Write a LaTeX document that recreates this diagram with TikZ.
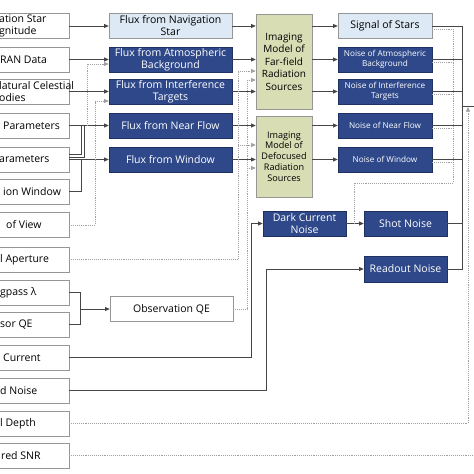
\documentclass[tikz,border=0pt]{standalone}
\usepackage{fontspec}
\setmainfont{Open Sans}
\usetikzlibrary{arrows.meta}
\definecolor{dblue}{RGB}{46,72,138}
\definecolor{lblue}{RGB}{221,234,245}
\definecolor{olivebg}{RGB}{216,221,180}
\definecolor{lnc}{RGB}{70,70,70}
\definecolor{dotc}{RGB}{160,160,160}
\definecolor{bordc}{RGB}{150,150,150}
\tikzset{
 base/.style={inner sep=1pt, align=center, font=\fontsize{10.5}{12}\selectfont, line width=0.7pt},
 wbox/.style={base, draw=bordc, fill=white, minimum height=25pt},
 lbox/.style={wbox, minimum width=129pt},
 dbox/.style={base, draw=dblue!70!black, fill=dblue, text=white, minimum height=25pt},
 flux/.style={dbox, minimum width=123pt},
 nbox/.style={dbox, minimum width=94pt, font=\fontsize{8.2}{9.5}\selectfont},
 lbbox/.style={base, draw=bordc, fill=lblue, minimum height=25pt},
 imgbox/.style={base, draw=bordc, fill=olivebg, minimum width=56pt},
 lbl/.style={anchor=west, inner sep=0pt, align=left, font=\fontsize{10.5}{12}\selectfont},
 ln/.style={draw=lnc, line width=0.9pt},
 dl/.style={draw=dotc, line width=0.9pt, densely dotted},
 arr/.style={-{Triangle[length=4.5pt,width=4pt]}},
}
\begin{document}
\begin{tikzpicture}[x=1pt,y=-1pt]
\useasboundingbox (0,0) rectangle (474,474);
\clip (0,0) rectangle (474,474);
\fill[white] (0,0) rectangle (474,474);
% left boxes
\node[lbox] (b1) at (4.5,26) {};
\node[lbox] (b2) at (4.5,59.5) {};
\node[lbox] (b3) at (4.5,91.5) {};
\node[lbox] (b4) at (4.5,125.5) {};
\node[lbox] (b5) at (4.5,159.5) {};
\node[lbox] (b6) at (4.5,191.5) {};
\node[lbox] (b7) at (4.5,225) {};
\node[lbox] (b8) at (4.5,259.5) {};
\node[lbox] (b9) at (4.5,292.5) {};
\node[lbox] (b10) at (4.5,324.5) {};
\node[lbox] (b11) at (4.5,357.5) {};
\node[lbox] (b12) at (4.5,390.5) {};
\node[lbox] (b13) at (4.5,423.5) {};
\node[lbox] (b14) at (4.5,455.5) {};
\node[lbl] (t1) at (-1,26) {ation Star\\gnitude};
\node[lbl] (t2) at (0,59.5) {RAN Data};
\node[lbl] (t3) at (-1,91.5) {latural Celestial\\odies};
\node[lbl] (t4) at (3,125.5) {Parameters};
\node[lbl] (t5) at (-1,159.5) {arameters};
\node[lbl] (t6) at (3,191.5) {ion Window};
\node[lbl] (t7) at (6,225) {of View};
\node[lbl] (t8) at (0,259.5) {l Aperture};
\node[lbl] (t9) at (0,292.5) {gpass λ};
\node[lbl] (t10) at (0,324.5) {sor QE};
\node[lbl] (t11) at (3,357.5) {Current};
\node[lbl] (t12) at (0,390.5) {d Noise};
\node[lbl] (t13) at (0,423.5) {l Depth};
\node[lbl] (t14) at (1,455.5) {red SNR};
% flux boxes
\node[lbbox, minimum width=123pt] (f1) at (170.5,26) {Flux from Navigation\\Star};
\node[flux] (f2) at (170.5,59.5) {Flux from Atmospheric\\Background};
\node[flux] (f3) at (170.5,91.5) {Flux from Interference\\Targets};
\node[flux] (f4) at (170.5,125.5) {Flux from Near Flow};
\node[flux] (f5) at (170.5,159.5) {Flux from Window};
% imaging models
\node[imgbox, minimum height=95pt, font=\fontsize{10}{12.5}\selectfont] (ff) at (284,61.5) {Imaging\\Model of\\Far-field\\Radiation\\Sources};
\node[imgbox, minimum height=81pt, font=\fontsize{9.1}{10.8}\selectfont] (df) at (284,156.5) {Imaging\\Model of\\Defocused\\Radiation\\Sources};
% right column
\node[lbbox, minimum width=94pt] (s1) at (385,26) {Signal of Stars};
\node[nbox] (n2) at (385,59.5) {Noise of Atmospheric\\Background};
\node[nbox] (n3) at (385,91.5) {Noise of Interference\\Targets};
\node[nbox] (n4) at (385,125.5) {Noise of Near Flow};
\node[nbox] (n5) at (385,159.5) {Noise of Window};
\node[dbox, minimum width=83pt] (dc) at (304.5,223.5) {Dark Current\\Noise};
\node[dbox, minimum width=83pt] (sh) at (405.5,223.5) {Shot Noise};
\node[dbox, minimum width=83pt, minimum height=26pt] (ro) at (405.5,269) {Readout Noise};
\node[wbox, minimum width=123pt] (qe) at (171.5,309) {Observation QE};
% left to flux
\draw[ln,arr] (b1.east) -- (f1.west);
\draw[ln,arr] (b2.east) -- (f2.west);
\draw[ln,arr] (b3.east) -- (f3.west);
\draw[ln,arr] (b4.east) -- (f4.west);
\draw[ln,arr] (b5.east) -- (f5.west);
\coordinate (j5a) at (81,125.5);
\coordinate (j5b) at (84,125.5);
\draw[ln] ([yshift=5pt]b5.east) -| (j5a);
\draw[ln] ([yshift=2.5pt]b5.east) -| (j5b);
\coordinate (j6) at (81,159.5);
\draw[ln] (b6.east) -| (j6);
\coordinate (j4) at (87,125.5);
\draw[dl,arr] (j4) |- ([yshift=-4.5pt]f2.west);
\coordinate (k7) at (95,101);
\draw[dl,arr] (b7.east) -| (k7) -- (k7 -| f3.west);
% flux to imaging
\draw[ln,arr] (f1.east) -- (f1.east -| ff.west);
\draw[ln,arr] (f2.east) -- (f2.east -| ff.west);
\draw[ln,arr] (f3.east) -- (f3.east -| ff.west);
\draw[ln,arr] (f4.east) -- (f4.east -| df.west);
\draw[ln,arr] (f5.east) -- (f5.east -| df.west);
% imaging to outputs
\draw[ln,arr] (s1.west -| ff.east) -- (s1.west);
\draw[ln,arr] (n2.west -| ff.east) -- (n2.west);
\draw[ln,arr] (n3.west -| ff.east) -- (n3.west);
\draw[ln,arr] (n4.west -| df.east) -- (n4.west);
\draw[ln,arr] (n5.west -| df.east) -- (n5.west);
% aperture and QE dotted
\coordinate (a1) at (238,71);
\coordinate (a2) at (238,145);
\draw[dl] (b8.east) -| (a1);
\draw[dl,arr] (a1) -- (a1 -| ff.west);
\draw[dl,arr] (a2) -- (a2 -| df.west);
\coordinate (q1) at (247,80);
\coordinate (q2) at (247,168);
\draw[dl] (qe.east) -| (q1);
\draw[dl,arr] (q1) -- (q1 -| ff.west);
\draw[dl,arr] (q2) -- (q2 -| df.west);
% QE inputs
\coordinate (jq) at (80,309);
\draw[ln] (b9.east) -| (jq);
\draw[ln] (b10.east) -| (jq);
\draw[ln,arr] (jq) -- (qe.west);
% current and readout
\coordinate (jc) at (251,223.5);
\draw[ln,arr] (b11.east) -| (jc) -- (dc.west);
\coordinate (jr) at (266,269);
\draw[ln,arr] (b12.east) -| (jr) -- (ro.west);
% depth and SNR
\coordinate (jd) at (468,107);
\draw[dl,arr] (b13.east) -| (jd);
\coordinate (je) at (476,455.5);
\draw[dl] (b14.east) -- (je);
% noise chain
\draw[ln,arr] (dc.east) -- (sh.west);
\coordinate (k1) at (453,183);
\coordinate (k2) at (354,183);
\draw[dl] ([yshift=-3pt]s1.east) -| (k1) -- (k2) -- (k2 |- sh.west);
\foreach \n in {n2,n3,n4,n5} \draw[dl] ([yshift=-3pt]\n.east) -- ([yshift=-3pt]\n.east -| k1);
\coordinate (m1) at (462,26);
\coordinate (m2) at (462,269);
\draw[ln] (s1.east) -- (m1) -- (m2) -- (ro.east);
\foreach \n in {n2,n3,n4,n5,sh} \draw[ln] (\n.east) -- (\n.east -| m1);
\coordinate (m3) at (462,106);
\coordinate (m4) at (476,106);
\draw[ln] (m3) -- (m4);
\end{tikzpicture}
\end{document}
